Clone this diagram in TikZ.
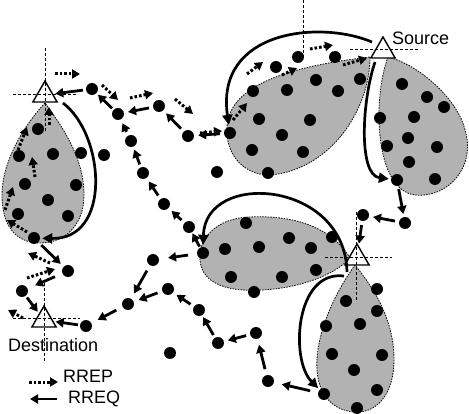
\documentclass[tikz,border=0pt]{standalone}
\usepackage{fontspec}
\setmainfont{Liberation Sans}
\usetikzlibrary{arrows.meta,shapes.geometric}

\begin{document}
\begin{tikzpicture}[x=1pt, y=-1pt,
    dot/.style={circle, fill=black, minimum size=12pt, inner sep=0pt},
    tri/.style={regular polygon, regular polygon sides=3, draw, line width=1.4pt,
      fill=white, minimum size=28pt, inner sep=0pt},
    drop/.style={fill=black!30, draw, line width=0.8pt, dash pattern=on 1.5pt off 1.2pt},
    cross/.style={line width=0.8pt, dash pattern=on 3pt off 2pt},
    rreq/.style={-{Triangle[length=8pt,width=9pt]}, line width=2.8pt,
      shorten <=4pt, shorten >=4pt},
    rrep/.style={-{Triangle[length=8pt,width=9pt]}, line width=3pt,
      dash pattern=on 2.6pt off 2pt},
    curvearr/.style={-{Triangle[length=10pt,width=10pt]}, line width=2.7pt, shorten >=2pt},
    lbl/.style={font=\fontsize{18}{20}\selectfont, inner sep=0pt, anchor=west}]
  \useasboundingbox (0,0) rectangle (469,414);

  % clusters
  \draw[drop] (45,103) .. controls (20,130) and (2,165) .. (2,195)
    .. controls (2,225) and (15,243) .. (40,243)
    .. controls (65,243) and (84,225) .. (84,195)
    .. controls (84,160) and (65,130) .. (45,103) -- cycle;
  \draw[drop] (370,57) .. controls (370,110) and (330,170) .. (270,175)
    .. controls (240,175) and (225,150) .. (227,127)
    .. controls (229,90) and (275,68) .. (370,57) -- cycle;
  \draw[drop] (388,57) .. controls (372,100) and (375,190) .. (415,195)
    .. controls (450,198) and (476,165) .. (465,130)
    .. controls (458,100) and (420,65) .. (388,57) -- cycle;
  \draw[drop] (350,258) .. controls (330,225) and (290,215) .. (250,217)
    .. controls (215,218) and (198,240) .. (200,260)
    .. controls (202,285) and (230,292) .. (262,290)
    .. controls (300,288) and (335,275) .. (350,258) -- cycle;
  \draw[drop] (355,265) .. controls (330,300) and (315,340) .. (317,370)
    .. controls (319,400) and (338,412) .. (357,412)
    .. controls (380,412) and (394,390) .. (394,360)
    .. controls (394,320) and (375,290) .. (355,265) -- cycle;

  % nodes
  \path
    (38,129) node[dot] (1) {}
    (19,156) node[dot] (2) {}
    (53,154) node[dot] (3) {}
    (25,184) node[dot] (4) {}
    (76,185) node[dot] (5) {}
    (48,200) node[dot] (6) {}
    (18,214) node[dot] (7) {}
    (68,216) node[dot] (8) {}
    (34,238) node[dot] (9) {}
    (81,153) node[dot] (10) {}
    (104,155) node[dot] (11) {}
    (68,271) node[dot] (12) {}
    (22,291) node[dot] (13) {}
    (86,326) node[dot] (14) {}
    (92,89) node[dot] (15) {}
    (118,114) node[dot] (16) {}
    (159,106) node[dot] (17) {}
    (188,136) node[dot] (18) {}
    (131,141) node[dot] (19) {}
    (143,173) node[dot] (20) {}
    (164,204) node[dot] (21) {}
    (189,227) node[dot] (22) {}
    (217,172) node[dot] (23) {}
    (230,133) node[dot] (24) {}
    (276,67) node[dot] (25) {}
    (298,57) node[dot] (26) {}
    (335,57) node[dot] (27) {}
    (360,79) node[dot] (28) {}
    (253,91) node[dot] (29) {}
    (287,90) node[dot] (30) {}
    (316,80) node[dot] (31) {}
    (338,91) node[dot] (32) {}
    (259,119) node[dot] (33) {}
    (310,120) node[dot] (34) {}
    (282,135) node[dot] (35) {}
    (252,150) node[dot] (36) {}
    (303,152) node[dot] (37) {}
    (268,173) node[dot] (38) {}
    (402,84) node[dot] (39) {}
    (427,97) node[dot] (40) {}
    (444,107) node[dot] (41) {}
    (380,118) node[dot] (42) {}
    (414,117) node[dot] (43) {}
    (408,138) node[dot] (44) {}
    (387,146) node[dot] (45) {}
    (437,147) node[dot] (46) {}
    (409,162) node[dot] (47) {}
    (435,179) node[dot] (48) {}
    (397,180) node[dot] (49) {}
    (405,223) node[dot] (50) {}
    (363,215) node[dot] (51) {}
    (246,223) node[dot] (52) {}
    (203,253) node[dot] (53) {}
    (225,249) node[dot] (54) {}
    (259,247) node[dot] (55) {}
    (289,238) node[dot] (56) {}
    (332,237) node[dot] (57) {}
    (311,248) node[dot] (58) {}
    (231,277) node[dot] (59) {}
    (282,277) node[dot] (60) {}
    (316,270) node[dot] (61) {}
    (254,292) node[dot] (62) {}
    (377,289) node[dot] (63) {}
    (346,301) node[dot] (64) {}
    (377,311) node[dot] (65) {}
    (326,326) node[dot] (66) {}
    (360,324) node[dot] (67) {}
    (332,354) node[dot] (68) {}
    (382,355) node[dot] (69) {}
    (354,370) node[dot] (70) {}
    (324,394) node[dot] (71) {}
    (377,390) node[dot] (72) {}
    (357,408) node[dot] (73) {}
    (153,260) node[dot] (74) {}
    (128,304) node[dot] (75) {}
    (168,289) node[dot] (76) {}
    (199,310) node[dot] (77) {}
    (218,343) node[dot] (78) {}
    (256,333) node[dot] (79) {}
    (268,381) node[dot] (80) {}
    (170,353) node[dot] (81) {}
    (383,51) node[tri] (S) {}
    (45,95) node[tri] (L) {}
    (357,258) node[tri] (M) {}
    (44,320) node[tri] (D) {};

  % cross hairs
  \draw[cross] (S.center) ++(-33,-2) -- ++(70,0);
  \draw[cross] (303,0) -- (303,58);
  \draw[cross] (L.center) ++(-32,-1) -- ++(65,0);
  \draw[cross] (L.center) ++(0,-47) -- ++(0,85);
  \draw[cross] (M.center) ++(-32,-1) -- ++(67,0);
  \draw[cross] (M.center) ++(-1,-46) -- ++(0,88);
  \draw[cross] (D.center) ++(-31,-2) -- ++(67,0);
  \draw[cross] (D.center) ++(0,-37) -- ++(0,79);

  \node[lbl] (srclbl) at (392,38) {Source};
  \node[lbl] (dstlbl) at (8,345) {Destination};

  % RREQ
  \draw[curvearr] ([shift={(-11,-9)}]S.center) .. controls (320,20) and (215,30) .. (24);
  \draw[curvearr] ([shift={(-8,11)}]S.center) .. controls (362,100) and (358,175) .. (49);
  \draw[curvearr] ([shift={(-10,14)}]M.center) .. controls (345,180) and (205,170) .. (53);
  \draw[curvearr] ([shift={(-13,18)}]M.center) .. controls (295,270) and (290,360) .. (71);
  \draw[curvearr] ([shift={(18,8)}]L.center) .. controls (105,135) and (112,240) .. (9);

  \draw[rreq, shorten <=3pt, shorten >=3pt] (49) -- (50);
  \draw[rreq] (50) -- (51);
  \draw[rreq, shorten >=2pt] (51) -- (M);
  \draw[rreq, shorten <=8pt, shorten >=8pt] (71) -- (80);
  \draw[rreq, shorten <=6pt, shorten >=6pt] (80) -- (79);
  \draw[rreq] (79) -- (78);
  \draw[rreq, shorten <=3pt, shorten >=2pt] (78) -- (77);
  \draw[rreq] (77) -- (76);
  \draw[rreq, shorten <=5pt, shorten >=5pt] (76) -- (75);
  \draw[rreq, shorten <=7pt, shorten >=7pt] (75) -- (14);
  \draw[rreq, shorten <=2pt, shorten >=2pt] (14) -- (D);
  \draw[rreq, shorten <=9pt, shorten >=9pt] (53) -- (74);
  \draw[rreq, shorten <=6pt, shorten >=6pt] (74) -- (75);
  \draw[rreq, shorten <=1pt, shorten >=1pt] (53) -- (22);
  \draw[rreq] (22) -- (21);
  \draw[rreq] (21) -- (20);
  \draw[rreq, shorten <=3pt, shorten >=3pt] (20) -- (19);
  \draw[rreq] (19) -- (16);
  \draw[rreq, shorten <=2pt, shorten >=2pt] (16) -- (15);
  \draw[rreq, shorten <=3pt, shorten >=2pt] (15) -- (L);
  \draw[rreq] (24) -- (18);
  \draw[rreq] (18) -- (17);
  \draw[rreq] (17) -- (16);
  \draw[rreq] (9) -- (12);
  \draw[rreq, shorten <=8pt, shorten >=8pt] (12) -- (13);
  \draw[rreq, shorten <=2pt, shorten >=2pt] (13) -- (D);

  % RREP
  \draw[rrep] ([shift={(-21,-2)}]D.center) -- ([shift={(-14,19)}]13.center);
  \draw[rrep] ([shift={(5,-13)}]13.center) -- ([shift={(-13,-2)}]12.center);
  \draw[rrep] ([shift={(-18,-8)}]12.center) -- ([shift={(-6,15)}]9.center);
  \draw[rrep] ([shift={(-7,-6)}]9.center) -- ([shift={(-11,6)}]7.center);
  \draw[rrep] ([shift={(-13,-4)}]7.center) -- ([shift={(-12,3)}]4.center);
  \draw[rrep] ([shift={(10,-7)}]4.center) -- ([shift={(13,1)}]2.center);
  \draw[rrep] ([shift={(-1,-6)}]2.center) -- ([shift={(-11,-2)}]1.center);
  \draw[rrep] ([shift={(11,-4)}]1.center) -- ([shift={(4,12)}]L.center);
  \draw[rrep] ([shift={(10,-21)}]L.center) -- ([shift={(-12,-15)}]15.center);
  \draw[rrep] ([shift={(10,-4)}]15.center) -- ([shift={(0,-14)}]16.center);
  \draw[rrep] ([shift={(12,-16)}]16.center) -- ([shift={(-6,-13)}]17.center);
  \draw[rrep] ([shift={(16,-7)}]17.center) -- ([shift={(5,-22)}]18.center);
  \draw[rrep] ([shift={(12,-3)}]18.center) -- ([shift={(-8,-2)}]24.center);
  \draw[rrep] ([shift={(3,-13)}]24.center) -- ([shift={(-6,12)}]29.center);
  \draw[rrep] ([shift={(-6,-17)}]29.center) -- ([shift={(-13,-5)}]25.center);
  \draw[rrep] ([shift={(6,8)}]25.center) -- ([shift={(-1,11)}]26.center);
  \draw[rrep] ([shift={(12,-8)}]26.center) -- ([shift={(-2,-12)}]27.center);
  \draw[rrep] ([shift={(8,8)}]27.center) -- ([shift={(-16,7)}]S.center);

  % legend
  \node[lbl] (replbl) at (63,376) {RREP};
  \node[lbl] (reqlbl) at (68,399) {RREQ};
  \coordinate (k1) at (29,382);
  \coordinate (k2) at (58,382);
  \coordinate (k3) at (57,399);
  \coordinate (k4) at (30,399);
  \draw[rrep] (k1) -- (k2);
  \draw[rreq, shorten <=0pt, shorten >=0pt] (k3) -- (k4);
\end{tikzpicture}
\end{document}
